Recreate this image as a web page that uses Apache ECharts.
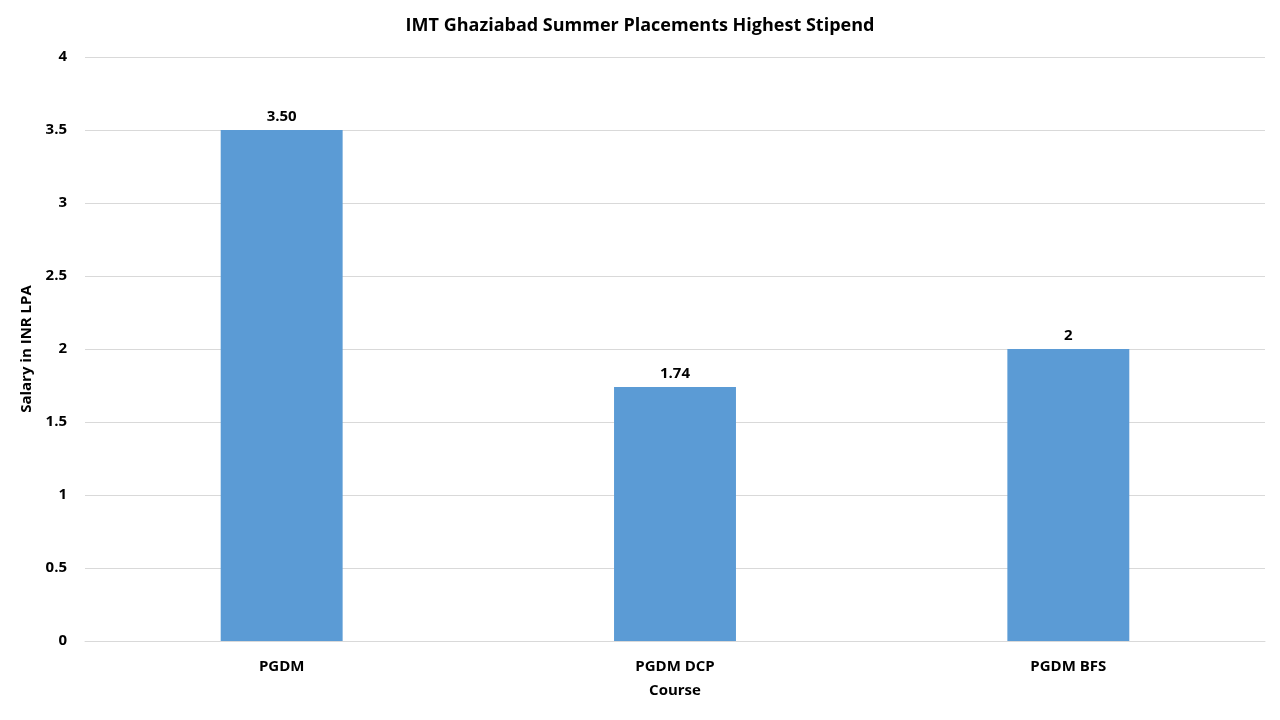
<!DOCTYPE html>
<html><head><meta charset="utf-8">
<script src="https://cdn.jsdelivr.net/npm/echarts@6/dist/echarts.min.js"></script>
<style>html,body{margin:0;padding:0;background:#fff}#c{width:1280px;height:720px}</style>
</head><body><div id="c"></div>
<script>
const categories = ["PGDM", "PGDM DCP", "PGDM BFS"];
const values = [3.5, 1.74, 2];
const valueLabels = ["3.50", "1.74", "2"];
const yTicks = [0, 0.5, 1, 1.5, 2, 2.5, 3, 3.5, 4];
const chart = echarts.init(document.getElementById('c'));
const font = '"Open Sans", "Liberation Sans", sans-serif';
chart.setOption({
  animation: false,
  textStyle: {fontFamily: font},
  title: {text: 'IMT Ghaziabad Summer Placements Highest Stipend', left: 'center', top: 12,
    textStyle: {fontSize: 18, fontWeight: 'bold', color: '#000', fontFamily: font}},
  grid: {left: 85, right: 15, top: 57, bottom: 79},
  xAxis: {type: 'category', data: categories, name: 'Course', nameLocation: 'middle', nameGap: 42,
    nameTextStyle: {fontSize: 15, fontWeight: 'bold', color: '#000'},
    axisTick: {show: false}, axisLine: {lineStyle: {color: '#d9d9d9'}},
    axisLabel: {fontSize: 15, fontWeight: 'bold', color: '#000', margin: 18}},
  yAxis: {type: 'value', min: 0, max: 4, interval: 0.5, name: 'Salary in INR LPA', nameLocation: 'middle', nameGap: 50,
    nameTextStyle: {fontSize: 15, fontWeight: 'bold', color: '#000'},
    axisLabel: {fontSize: 15, fontWeight: 'bold', color: '#000', margin: 18,
      formatter: v => yTicks.includes(v) ? String(v) : ''},
    splitLine: {lineStyle: {color: '#d9d9d9'}}},
  series: [{type: 'bar', data: values, barWidth: '31%', itemStyle: {color: '#5B9BD5'},
    label: {show: true, position: 'top', fontSize: 15, fontWeight: 'bold', color: '#000', distance: 6,
      formatter: p => valueLabels[p.dataIndex]}}]
});
</script></body></html>
